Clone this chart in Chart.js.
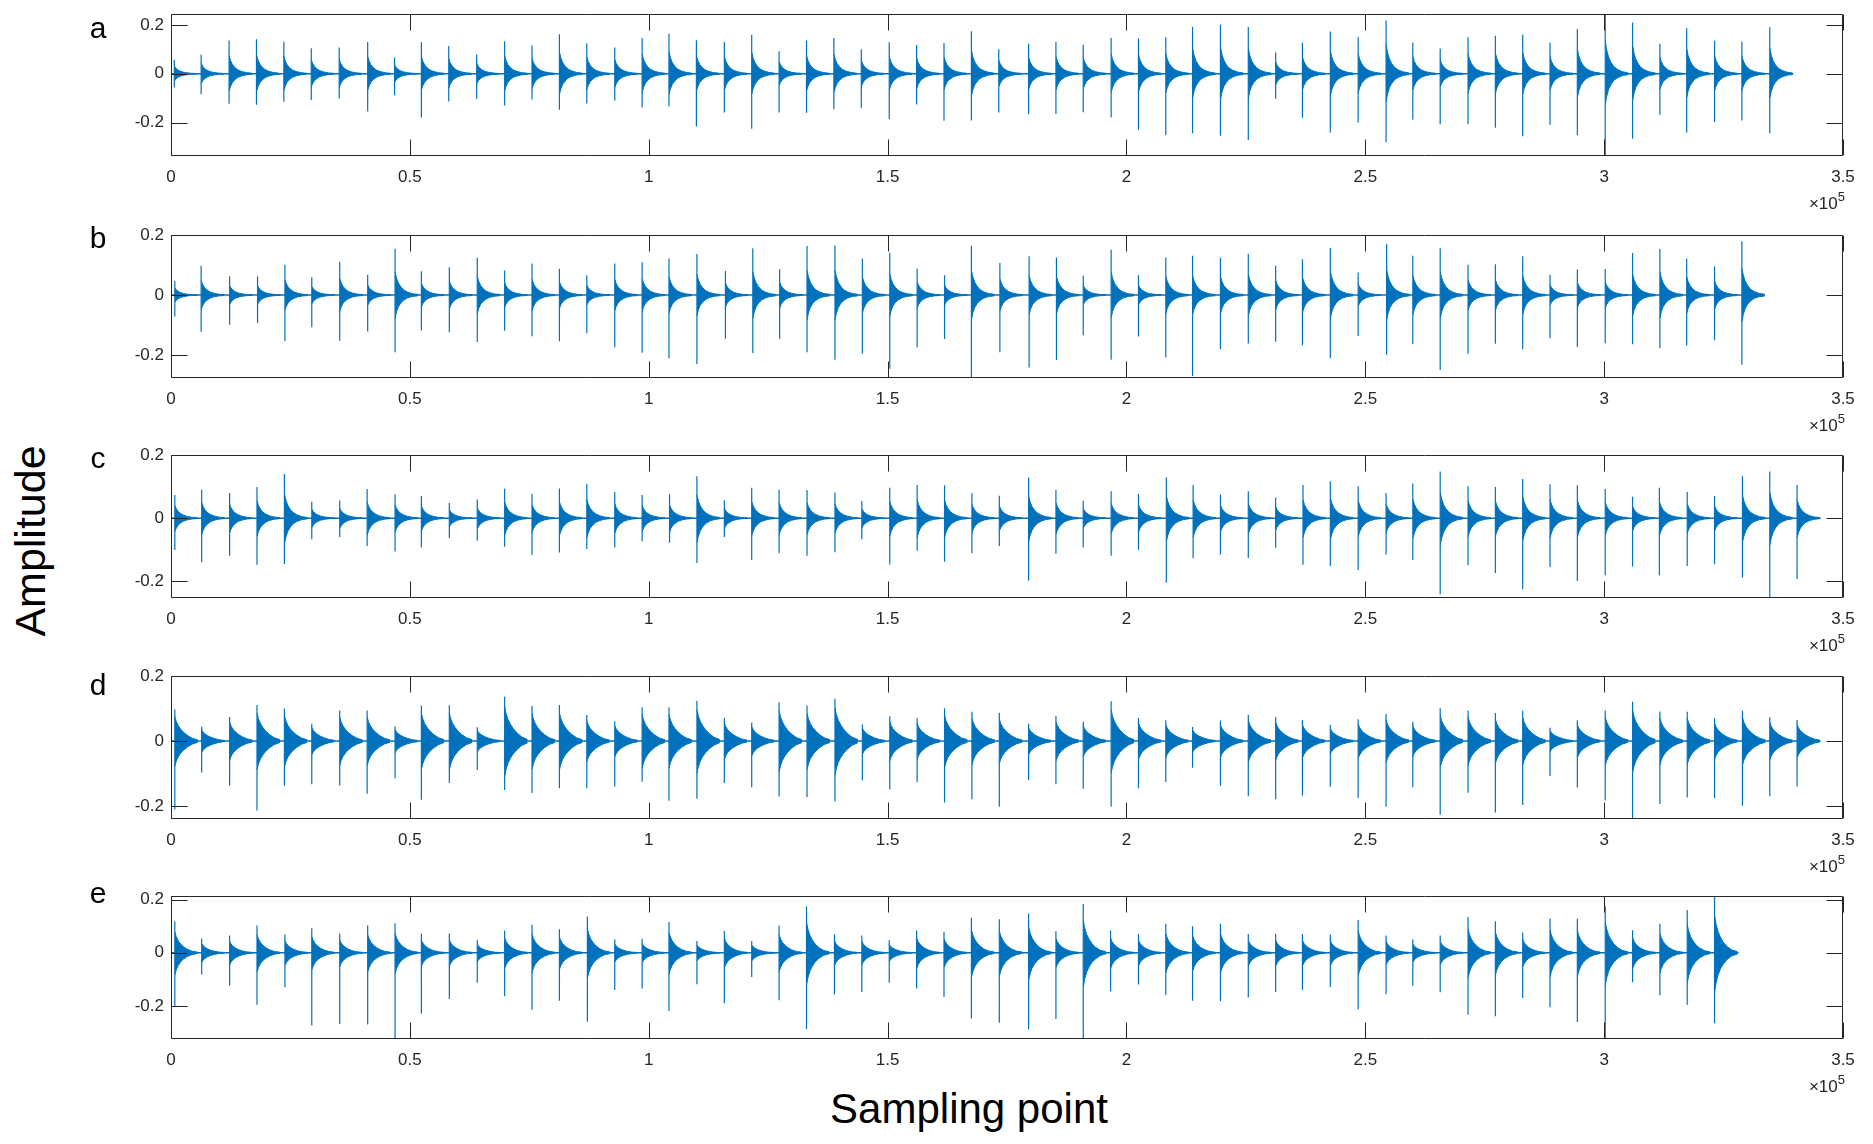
<!DOCTYPE html>
<html>
<head>
<meta charset="utf-8">
<title>Amplitude vs sampling point</title>
<script src="https://cdn.jsdelivr.net/npm/chart.js@4.4.1/dist/chart.umd.min.js"></script>
<style>
  html, body { margin: 0; padding: 0; background: #fff; }
  body { position: relative; width: 1873px; height: 1144px; overflow: hidden; font-family: "Liberation Sans", Arial, sans-serif; }
  canvas { position: absolute; left: 0; }
  .letter { position: absolute; font-size: 30px; line-height: 30px; color: #000; transform: translate(-50%, -50%); }
  .expo { position: absolute; font-size: 17px; line-height: 17px; color: #262626; white-space: nowrap; }
  .expo span { position: relative; top: -8px; font-size: 13px; }
  #ylabel { position: absolute; left: 30px; top: 541px; font-size: 43px; line-height: 43px; color: #000; white-space: nowrap; transform: translate(-50%, -50%) rotate(-90deg); }
  #xlabel { position: absolute; left: 969px; top: 1109px; font-size: 42px; line-height: 42px; color: #000; white-space: nowrap; transform: translate(-50%, -50%); }
</style>
</head>
<body>
<div id="ylabel">Amplitude</div>
<div id="xlabel">Sampling point</div>
<script>
// axis ticks
const xTicks = [0, 50000, 100000, 150000, 200000, 250000, 300000, 350000];
const xTickLabels = ['0', '0.5', '1', '1.5', '2', '2.5', '3', '3.5'];
const yTicks = [-0.2, 0, 0.2];
const yTickLabels = ['-0.2', '0', '0.2'];

// ringing after each hit: sample offsets from onset, body size as a share of the hit's positive peak
const envOffsets = [0, 300, 700, 1200, 1800, 2600, 3600, 4800];

// panel a
const aPos = [690, 6310, 12160, 17890, 23620, 29360, 35210, 41170, 46790, 52410, 58140, 63990, 69840, 75570, 81310, 87040, 92890, 98620, 104240, 109980, 115830, 121560, 127290, 133030, 138760, 144500, 150350, 156080, 161810, 167550, 173280, 179520, 185240, 190960, 196800, 202520, 208240, 213840, 219680, 225510, 231240, 236840, 242680, 248510, 254350, 259950, 265680, 271510, 277230, 282950, 288670, 294390, 300230, 305950, 311670, 317280, 323110, 328830, 334670];
const aMax = [0.058, 0.078, 0.136, 0.142, 0.131, 0.105, 0.108, 0.130, 0.067, 0.129, 0.114, 0.079, 0.133, 0.116, 0.162, 0.125, 0.108, 0.147, 0.164, 0.137, 0.130, 0.160, 0.092, 0.136, 0.147, 0.101, 0.129, 0.118, 0.126, 0.174, 0.101, 0.123, 0.130, 0.119, 0.147, 0.145, 0.150, 0.192, 0.201, 0.192, 0.087, 0.127, 0.173, 0.151, 0.218, 0.128, 0.104, 0.150, 0.156, 0.160, 0.128, 0.184, 0.245, 0.210, 0.123, 0.187, 0.135, 0.131, 0.191];
const aMin = [-0.056, -0.084, -0.123, -0.127, -0.115, -0.107, -0.101, -0.155, -0.088, -0.179, -0.114, -0.103, -0.130, -0.105, -0.147, -0.122, -0.110, -0.138, -0.134, -0.216, -0.159, -0.225, -0.159, -0.160, -0.145, -0.140, -0.186, -0.126, -0.193, -0.192, -0.159, -0.166, -0.165, -0.158, -0.179, -0.229, -0.251, -0.244, -0.254, -0.271, -0.102, -0.180, -0.241, -0.200, -0.281, -0.188, -0.207, -0.207, -0.221, -0.256, -0.209, -0.252, -0.340, -0.266, -0.168, -0.241, -0.198, -0.191, -0.244];
const aEnvUp = [0.55, 0.40, 0.28, 0.19, 0.12, 0.07, 0.035, 0.015];
const aEnvLow = [0.52, 0.38, 0.26, 0.18, 0.11, 0.065, 0.03, 0.015];
const aEnd = 339590;
const aRange = [-0.337, 0.245];

// panel b
const bPos = [800, 6310, 12270, 18120, 23850, 29470, 35320, 41170, 46900, 52410, 58260, 64110, 69840, 75570, 81310, 87040, 92890, 98620, 104240, 110090, 116060, 121790, 127410, 133140, 138990, 144720, 150460, 156190, 161930, 167550, 173510, 179630, 185350, 190960, 196800, 202520, 208240, 213840, 219680, 225510, 231240, 236840, 242680, 248510, 254460, 259950, 265680, 271510, 277230, 282950, 288670, 294390, 300230, 305950, 311670, 317280, 323110, 328830];
const bMax = [0.047, 0.098, 0.063, 0.062, 0.101, 0.059, 0.110, 0.068, 0.154, 0.079, 0.093, 0.124, 0.082, 0.105, 0.088, 0.066, 0.105, 0.109, 0.122, 0.137, 0.080, 0.156, 0.086, 0.163, 0.165, 0.121, 0.141, 0.088, 0.066, 0.164, 0.107, 0.129, 0.125, 0.064, 0.151, 0.066, 0.125, 0.131, 0.124, 0.138, 0.098, 0.119, 0.157, 0.075, 0.170, 0.131, 0.156, 0.101, 0.103, 0.129, 0.068, 0.085, 0.087, 0.140, 0.153, 0.122, 0.095, 0.179];
const bMin = [-0.071, -0.122, -0.099, -0.093, -0.153, -0.107, -0.152, -0.121, -0.190, -0.118, -0.124, -0.156, -0.119, -0.137, -0.154, -0.127, -0.174, -0.192, -0.210, -0.229, -0.145, -0.193, -0.146, -0.190, -0.215, -0.195, -0.245, -0.174, -0.146, -0.276, -0.190, -0.241, -0.216, -0.134, -0.215, -0.138, -0.208, -0.269, -0.180, -0.161, -0.155, -0.167, -0.210, -0.136, -0.199, -0.163, -0.249, -0.195, -0.162, -0.181, -0.144, -0.173, -0.160, -0.164, -0.177, -0.168, -0.150, -0.232];
const bEnvUp = [0.50, 0.37, 0.26, 0.18, 0.11, 0.065, 0.03, 0.015];
const bEnvLow = [0.50, 0.36, 0.25, 0.17, 0.11, 0.06, 0.03, 0.015];
const bEnd = 333640;
const bRange = [-0.276, 0.2];

// panel c
const cPos = [800, 6420, 12270, 18000, 23740, 29470, 35320, 41060, 46900, 52410, 58260, 64110, 69840, 75570, 81310, 87040, 92890, 98620, 104360, 110090, 115830, 121560, 127290, 133140, 138990, 144610, 150460, 156190, 161930, 167660, 173390, 179520, 185240, 190960, 196800, 202520, 208350, 213960, 219680, 225510, 231240, 236960, 242680, 248510, 254350, 259950, 265680, 271510, 277230, 282950, 288670, 294390, 300230, 305950, 311560, 317390, 323110, 328950, 334670, 340390];
const cMax = [0.073, 0.090, 0.080, 0.099, 0.140, 0.052, 0.056, 0.092, 0.076, 0.070, 0.048, 0.059, 0.093, 0.077, 0.094, 0.108, 0.083, 0.073, 0.076, 0.133, 0.057, 0.096, 0.090, 0.089, 0.081, 0.054, 0.096, 0.105, 0.104, 0.079, 0.071, 0.129, 0.089, 0.055, 0.085, 0.077, 0.129, 0.105, 0.075, 0.085, 0.065, 0.105, 0.117, 0.101, 0.080, 0.110, 0.148, 0.101, 0.099, 0.124, 0.107, 0.104, 0.092, 0.068, 0.096, 0.083, 0.070, 0.133, 0.148, 0.105];
const cMin = [-0.101, -0.140, -0.119, -0.148, -0.145, -0.067, -0.060, -0.088, -0.106, -0.092, -0.064, -0.072, -0.091, -0.117, -0.109, -0.098, -0.093, -0.073, -0.078, -0.142, -0.060, -0.133, -0.111, -0.119, -0.108, -0.067, -0.147, -0.103, -0.138, -0.111, -0.088, -0.198, -0.113, -0.093, -0.119, -0.100, -0.205, -0.127, -0.115, -0.126, -0.094, -0.148, -0.152, -0.164, -0.115, -0.133, -0.241, -0.149, -0.174, -0.226, -0.155, -0.199, -0.181, -0.153, -0.181, -0.152, -0.146, -0.188, -0.253, -0.193];
const cEnvUp = [0.55, 0.41, 0.29, 0.20, 0.13, 0.075, 0.035, 0.015];
const cEnvLow = [0.58, 0.43, 0.30, 0.21, 0.13, 0.075, 0.035, 0.015];
const cEnd = 345310;
const cRange = [-0.253, 0.2];

// panel d
const dPos = [800, 6420, 12270, 18000, 23740, 29470, 35320, 41060, 46900, 52410, 58260, 64110, 69840, 75570, 81310, 87040, 92890, 98620, 104240, 110090, 115830, 121560, 127290, 133140, 138990, 144720, 150460, 156190, 161930, 167660, 173390, 179520, 185240, 190960, 196800, 202520, 208240, 213840, 219680, 225510, 231240, 236840, 242680, 248510, 254350, 259950, 265680, 271510, 277230, 282950, 288670, 294390, 300230, 305950, 311670, 317390, 323110, 328950, 334670, 340390];
const dMax = [0.097, 0.044, 0.074, 0.111, 0.100, 0.053, 0.094, 0.094, 0.045, 0.109, 0.110, 0.042, 0.136, 0.108, 0.111, 0.080, 0.061, 0.104, 0.104, 0.124, 0.071, 0.057, 0.119, 0.109, 0.130, 0.051, 0.076, 0.070, 0.101, 0.090, 0.087, 0.053, 0.077, 0.060, 0.122, 0.071, 0.064, 0.043, 0.063, 0.081, 0.074, 0.065, 0.049, 0.067, 0.083, 0.059, 0.101, 0.094, 0.086, 0.093, 0.041, 0.064, 0.094, 0.121, 0.091, 0.090, 0.070, 0.093, 0.073, 0.065];
const dMin = [-0.211, -0.097, -0.137, -0.214, -0.138, -0.133, -0.137, -0.162, -0.115, -0.181, -0.129, -0.089, -0.151, -0.160, -0.145, -0.145, -0.140, -0.125, -0.184, -0.178, -0.129, -0.142, -0.171, -0.172, -0.186, -0.121, -0.149, -0.127, -0.189, -0.179, -0.202, -0.120, -0.133, -0.147, -0.202, -0.145, -0.126, -0.082, -0.138, -0.170, -0.179, -0.168, -0.141, -0.175, -0.202, -0.142, -0.227, -0.159, -0.220, -0.197, -0.108, -0.143, -0.183, -0.239, -0.194, -0.174, -0.175, -0.199, -0.170, -0.140];
const dEnvUp = [0.78, 0.62, 0.49, 0.38, 0.28, 0.18, 0.09, 0.035];
const dEnvLow = [0.80, 0.64, 0.50, 0.39, 0.29, 0.19, 0.10, 0.04];
const dEnd = 345310;
const dRange = [-0.24, 0.2];

// panel e
const ePos = [800, 6420, 12270, 18000, 23850, 29470, 35320, 41170, 46900, 52410, 58260, 64110, 69840, 75570, 81310, 87160, 92890, 98620, 104240, 110090, 115830, 121560, 127290, 133030, 138880, 144610, 150350, 156080, 161810, 167550, 173390, 179520, 185240, 190960, 196680, 202520, 208240, 213840, 219680, 225510, 231240, 236840, 242680, 248510, 254350, 259950, 265680, 271510, 277230, 282950, 288670, 294390, 300230, 305950, 311670, 317390, 323110];
const eMax = [0.119, 0.053, 0.065, 0.103, 0.069, 0.092, 0.073, 0.103, 0.111, 0.072, 0.073, 0.048, 0.084, 0.106, 0.089, 0.137, 0.050, 0.053, 0.116, 0.044, 0.082, 0.044, 0.103, 0.174, 0.069, 0.065, 0.047, 0.084, 0.079, 0.132, 0.126, 0.148, 0.081, 0.184, 0.084, 0.071, 0.109, 0.100, 0.109, 0.071, 0.071, 0.071, 0.069, 0.124, 0.065, 0.050, 0.065, 0.135, 0.119, 0.076, 0.129, 0.128, 0.175, 0.085, 0.109, 0.161, 0.214];
const eMin = [-0.201, -0.082, -0.123, -0.196, -0.130, -0.274, -0.268, -0.270, -0.325, -0.229, -0.174, -0.113, -0.164, -0.215, -0.181, -0.260, -0.140, -0.135, -0.219, -0.119, -0.190, -0.091, -0.179, -0.287, -0.157, -0.148, -0.113, -0.135, -0.167, -0.248, -0.264, -0.288, -0.250, -0.325, -0.145, -0.120, -0.159, -0.181, -0.183, -0.169, -0.148, -0.140, -0.129, -0.213, -0.156, -0.124, -0.149, -0.234, -0.239, -0.170, -0.205, -0.261, -0.325, -0.111, -0.160, -0.196, -0.266];
const eEnvUp = [0.66, 0.51, 0.38, 0.28, 0.19, 0.11, 0.05, 0.02];
const eEnvLow = [0.70, 0.54, 0.40, 0.29, 0.20, 0.12, 0.055, 0.02];
const eEnd = 328150;
const eRange = [-0.325, 0.214];

const BLUE = '#0072BD';
const AXIS = '#262626';
const FONT = '"Liberation Sans", Arial, sans-serif';
const TICK_LEN = 16;

// box with inward ticks, like the matlab axes
const boxTicks = {
    id: 'boxTicks',
    afterDatasetsDraw(chart) {
        const { ctx, chartArea, scales } = chart;
        const l = Math.round(chartArea.left) + 0.5, r = Math.round(chartArea.right) - 0.5;
        const t = Math.round(chartArea.top) + 0.5, b = Math.round(chartArea.bottom) - 0.5;
        ctx.save();
        ctx.strokeStyle = AXIS;
        ctx.lineWidth = 1;
        ctx.beginPath();
        ctx.rect(l, t, r - l, b - t);
        xTicks.forEach(v => {
            const px = Math.round(scales.x.getPixelForValue(v)) + 0.5;
            ctx.moveTo(px, b); ctx.lineTo(px, b - TICK_LEN);
            ctx.moveTo(px, t); ctx.lineTo(px, t + TICK_LEN);
        });
        yTicks.forEach(v => {
            const py = Math.round(scales.y.getPixelForValue(v)) + 0.5;
            ctx.moveTo(l, py); ctx.lineTo(l + TICK_LEN, py);
            ctx.moveTo(r, py); ctx.lineTo(r - TICK_LEN, py);
        });
        ctx.stroke();
        ctx.restore();
    }
};

function buildSets(pos, max, min, envUp, envLow, end) {
    const upper = [], lower = [], spikes = [];
    const last = envOffsets[envOffsets.length - 1];
    pos.forEach((p, i) => {
        envOffsets.forEach((o, k) => {
            upper.push({ x: p + o, y: envUp[k] * max[i] });
            lower.push({ x: p + o, y: Math.max(-envLow[k] * max[i], min[i]) });
        });
        upper.push({ x: p + last, y: null });
        lower.push({ x: p + last, y: null });
        spikes.push({ x: p, y: min[i] }, { x: p, y: max[i] }, { x: p, y: null });
    });
    const common = { borderColor: BLUE, pointRadius: 0, tension: 0, spanGaps: false };
    return [
        { ...common, data: upper, fill: 'origin', backgroundColor: BLUE, borderWidth: 1 },
        { ...common, data: lower, fill: 'origin', backgroundColor: BLUE, borderWidth: 1 },
        { ...common, data: [{ x: 0, y: 0 }, { x: end, y: 0 }], fill: false, borderWidth: 1.5 },
        { ...common, data: spikes, fill: false, borderWidth: 1.2 }
    ];
}

const panels = [
    { letter: 'a', top: 14, h: 142, sets: buildSets(aPos, aMax, aMin, aEnvUp, aEnvLow, aEnd), range: aRange, ly: 28 },
    { letter: 'b', top: 235, h: 143, sets: buildSets(bPos, bMax, bMin, bEnvUp, bEnvLow, bEnd), range: bRange, ly: 238 },
    { letter: 'c', top: 455, h: 143, sets: buildSets(cPos, cMax, cMin, cEnvUp, cEnvLow, cEnd), range: cRange, ly: 458 },
    { letter: 'd', top: 676, h: 143, sets: buildSets(dPos, dMax, dMin, dEnvUp, dEnvLow, dEnd), range: dRange, ly: 685 },
    { letter: 'e', top: 896, h: 143, sets: buildSets(ePos, eMax, eMin, eEnvUp, eEnvLow, eEnd), range: eRange, ly: 893 }
];

panels.forEach(p => {
    const canvas = document.createElement('canvas');
    canvas.width = 1873;
    canvas.height = p.h + 20 + 62;
    canvas.style.top = (p.top - 20) + 'px';
    document.body.appendChild(canvas);

    const letter = document.createElement('div');
    letter.className = 'letter';
    letter.textContent = p.letter;
    letter.style.left = '98px';
    letter.style.top = p.ly + 'px';
    document.body.appendChild(letter);

    const expo = document.createElement('div');
    expo.className = 'expo';
    expo.innerHTML = '\u00d710<span>5</span>';
    expo.style.right = '28px';
    expo.style.top = (p.top + p.h + 39) + 'px';
    document.body.appendChild(expo);

    new Chart(canvas, {
        type: 'line',
        data: { datasets: p.sets },
        options: {
            responsive: false,
            animation: false,
            devicePixelRatio: 1,
            layout: { padding: { left: 0, right: 30, top: 20, bottom: 0 } },
            plugins: { legend: { display: false }, tooltip: { enabled: false } },
            scales: {
                x: {
                    type: 'linear',
                    min: 0,
                    max: 350000,
                    grid: { display: false, drawTicks: false },
                    border: { display: false },
                    afterBuildTicks: s => { s.ticks = xTicks.map(v => ({ value: v })); },
                    afterFit: s => { s.height = 62; },
                    ticks: {
                        autoSkip: false,
                        maxRotation: 0,
                        padding: 11,
                        color: AXIS,
                        font: { family: FONT, size: 17 },
                        callback: (v, i) => xTickLabels[i]
                    }
                },
                y: {
                    type: 'linear',
                    min: p.range[0],
                    max: p.range[1],
                    grid: { display: false, drawTicks: false },
                    border: { display: false },
                    afterBuildTicks: s => { s.ticks = yTicks.map(v => ({ value: v })); },
                    afterFit: s => { s.width = 171; },
                    ticks: {
                        padding: 7,
                        color: AXIS,
                        font: { family: FONT, size: 17 },
                        callback: (v, i) => yTickLabels[i]
                    }
                }
            }
        },
        plugins: [boxTicks]
    });
});
</script>
</body>
</html>
